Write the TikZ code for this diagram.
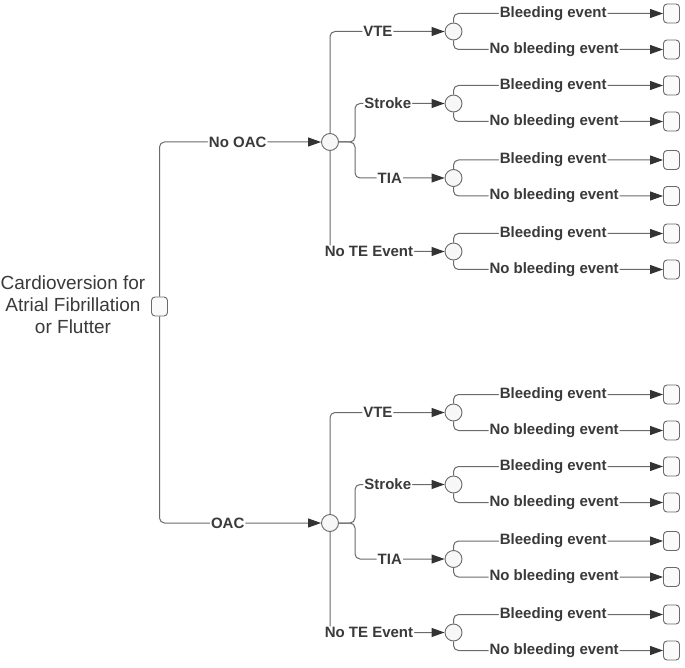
\documentclass[tikz,border=0pt]{standalone}
\usepackage{fontspec}
\setmainfont{Liberation Sans}
\usetikzlibrary{arrows.meta}
\definecolor{linegray}{HTML}{6A6A6A}
\definecolor{tipgray}{HTML}{333333}
\definecolor{textgray}{HTML}{3A3A3A}
\tikzset{
  chance/.style={circle,draw=linegray,fill=gray!6,line width=.9pt,minimum size=17pt,inner sep=0pt},
  final/.style={rectangle,rounded corners=3.5pt,draw=linegray,fill=gray!4,line width=.9pt,minimum width=16pt,minimum height=19pt,inner sep=0pt},
  lbl/.style={fill=white,text=textgray,font=\bfseries\fontsize{15}{15}\selectfont,inner sep=1pt},
  rootlbl/.style={align=center,text=textgray,font=\fontsize{19}{22}\selectfont},
  branch/.style={draw=linegray,line width=1pt,rounded corners=5pt},
  arr/.style={branch,-{Triangle[length=13pt,width=9pt,color=tipgray]}}
}
\begin{document}
\begin{tikzpicture}[x=1pt,y=-1pt]
  \useasboundingbox (0,0) rectangle (685,668);
  \node[final] (root) at (159.5,306.5) {};
  \node[rootlbl] (title) at (73,305) {Cardioversion for\\Atrial Fibrillation\\or Flutter};
  \foreach \arm/\armtxt/\dy/\apos in {noac/No OAC/0/.742,oac/OAC/381/.711} {
    \node[chance] (\arm) at (330,142+\dy) {};
    \coordinate (\arm-fork) at (355,142+\dy);
    \draw[arr] (root) |- node[lbl,pos=\apos] {\armtxt} (\arm);
    % outcomes of each event
    \foreach \ev/\ey in {vte/31.5,stroke/103.5,tia/178,note/251.5} {
      \node[chance] (\arm-\ev) at (453.5,\ey+\dy) {};
      \node[final] (\arm-\ev-b) at (671.5,\ey+\dy-18) {};
      \node[final] (\arm-\ev-n) at (671.5,\ey+\dy+18) {};
      \draw[arr] (\arm-\ev.north) |- node[lbl,pos=.738] {Bleeding event} (\arm-\ev-b);
      \draw[arr] (\arm-\ev.south) |- node[lbl,pos=.74] {No bleeding event} (\arm-\ev-n);
    }
    \draw[arr] (\arm.north) |- node[lbl,pos=.709] {VTE} (\arm-vte);
    \draw[arr] (\arm.east) -- (\arm-fork) |- node[lbl,pos=.683] {Stroke} (\arm-stroke);
    \draw[arr] (\arm.east) -- (\arm-fork) |- node[lbl,pos=.694] {TIA} (\arm-tia);
    \draw[arr] (\arm.south) |- node[lbl,pos=.67] {No TE Event} (\arm-note);
  }
\end{tikzpicture}
\end{document}
